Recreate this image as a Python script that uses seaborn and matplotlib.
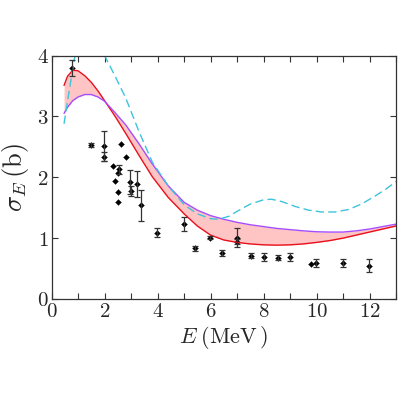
import numpy as np
import pandas as pd
import seaborn as sns
import matplotlib
matplotlib.use("Agg")
import matplotlib.pyplot as plt
from matplotlib.ticker import MultipleLocator, FuncFormatter

# band curves (shared energy grid)
band_E = [0.47, 0.6, 0.8, 1.0, 1.25, 1.5, 1.75, 2.0, 2.4, 2.8, 3.3, 3.8, 4.4, 5.0, 5.5,
          6.0, 6.5, 7.0, 7.5, 8.0, 8.5, 9.0, 9.5, 10.0, 10.5, 11.0, 11.5, 12.0, 12.5, 13.0]
red_sigma = [3.51, 3.66, 3.76, 3.75, 3.67, 3.56, 3.42, 3.26, 3.00, 2.72, 2.36, 2.01, 1.67, 1.40, 1.20,
             1.05, 0.97, 0.93, 0.905, 0.89, 0.885, 0.89, 0.905, 0.93, 0.96, 1.00, 1.05, 1.10, 1.15, 1.20]
purple_sigma = [3.05, 3.15, 3.26, 3.32, 3.36, 3.36, 3.32, 3.25, 3.06, 2.86, 2.55, 2.22, 1.86, 1.59, 1.46,
                1.37, 1.31, 1.26, 1.22, 1.19, 1.16, 1.14, 1.12, 1.105, 1.10, 1.10, 1.12, 1.15, 1.19, 1.23]

# dashed curve
dash_E = [0.47, 0.6, 0.75, 0.85, 1.0, 1.4, 1.7, 2.0, 2.4, 2.8, 3.3, 3.8, 4.4, 5.0, 5.5, 6.0, 6.3,
          6.7, 7.0, 7.5, 8.0, 8.3, 8.7, 9.2, 9.7, 10.2, 10.7, 11.2, 11.7, 12.2, 12.6, 13.0]
dash_sigma = [2.88, 3.25, 3.65, 3.92, 4.3, 4.5, 4.35, 4.0, 3.66, 3.30, 2.75, 2.25, 1.86, 1.55, 1.40, 1.32, 1.31,
              1.36, 1.44, 1.56, 1.63, 1.64, 1.60, 1.52, 1.46, 1.43, 1.43, 1.47, 1.56, 1.69, 1.80, 1.93]

# data with error bars
exp_E = [0.77, 1.49, 1.99, 1.99, 2.53, 2.96, 2.99, 3.21, 3.36, 3.99, 4.98, 5.42, 5.98, 6.42,
         7.0, 7.0, 7.54, 8.01, 8.53, 9.01, 9.99, 10.99, 11.99]
exp_sigma = [3.79, 2.53, 2.51, 2.34, 2.13, 1.92, 1.78, 1.89, 1.54, 1.09, 1.23, 0.83, 1.01, 0.75,
             1.01, 0.94, 0.71, 0.69, 0.68, 0.69, 0.59, 0.59, 0.55]
exp_err = [0.13, 0.04, 0.25, 0.08, 0.08, 0.20, 0.08, 0.22, 0.25, 0.07, 0.12, 0.04, 0.03, 0.05,
           0.15, 0.04, 0.04, 0.07, 0.04, 0.07, 0.07, 0.07, 0.10]

# data without error bars
pts_E = [2.63, 2.80, 2.33, 2.50, 2.40, 2.49, 2.49, 9.78]
pts_sigma = [2.54, 2.34, 2.19, 2.07, 1.94, 1.76, 1.60, 0.57]

sns.set_theme(style="ticks")
plt.rcParams["mathtext.fontset"] = "cm"
plt.rcParams["font.family"] = ["DejaVu Serif"]

band = pd.DataFrame({"E": band_E, "red": red_sigma, "purple": purple_sigma})
dash = pd.DataFrame({"E": dash_E, "sigma": dash_sigma})

fig = plt.figure(figsize=(4, 4), dpi=100)
ax = fig.add_axes([0.129, 0.2525, 0.861, 0.6085])

ax.fill_between(band["E"], band["red"], band["purple"], color="#ffc4c4", lw=0)
sns.lineplot(data=band, x="E", y="red", color="#e8101c", lw=1.0, ax=ax)
sns.lineplot(data=band, x="E", y="purple", color="#a64dff", lw=1.0, ax=ax)
sns.lineplot(data=dash, x="E", y="sigma", color="#3ec3dc", lw=1.0, ax=ax, dashes=False)
ax.lines[-1].set_linestyle((0, (6, 3)))

ax.errorbar(exp_E, exp_sigma, yerr=exp_err, fmt="none", ecolor="#333333",
            elinewidth=0.9, capsize=2.5, capthick=0.9)
sns.scatterplot(x=exp_E, y=exp_sigma, marker="D", s=9, color="black", edgecolor="black", ax=ax)
sns.scatterplot(x=pts_E, y=pts_sigma, marker="D", s=9, color="black", edgecolor="black", ax=ax)

ax.set_xlim(0, 13)
ax.set_ylim(0, 4)
ax.xaxis.set_major_locator(MultipleLocator(2))
ax.xaxis.set_minor_locator(MultipleLocator(1))
ax.yaxis.set_major_locator(MultipleLocator(1))
fmt = FuncFormatter(lambda v, p: f"${v:g}$")
ax.xaxis.set_major_formatter(fmt)
ax.yaxis.set_major_formatter(fmt)
ax.tick_params(which="both", direction="in", top=True, right=True, length=4,
               width=0.8, labelsize=15, pad=2, color="#333333")
for s in ax.spines.values():
    s.set_linewidth(0.9)
    s.set_color("#333333")

ax.set_xlabel(r"$E\;(\mathrm{MeV\,})$", fontsize=16, labelpad=2)
ax.set_ylabel(r"$\sigma_E\,(\mathrm{b})$", fontsize=19, labelpad=4)

fig.savefig("out.png", dpi=100)
